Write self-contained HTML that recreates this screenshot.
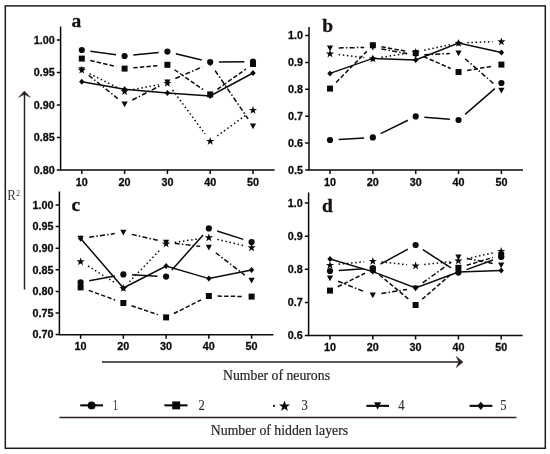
<!DOCTYPE html>
<html lang="en"><head><meta charset="utf-8"><title>Figure</title>
<style>html,body{margin:0;padding:0;background:#fff}body{width:550px;height:454px;overflow:hidden}svg{display:block}</style></head>
<body>
<svg width="550" height="454" viewBox="0 0 550 454">
<rect width="550" height="454" fill="#fff"/>
<rect x="5.3" y="5.9" width="540" height="442.4" fill="none" stroke="#221a1a" stroke-width="1.5"/>
<g stroke="#0a0a0a" stroke-width="1.5" fill="none">
<path d="M60.60 26.60 V170.00 H274.60"/>
<path d="M60.60 40.00 h-3.8M60.60 72.50 h-3.8M60.60 105.00 h-3.8M60.60 137.50 h-3.8M60.60 170.00 h-3.8M81.80 170.00 v4M124.60 170.00 v4M167.40 170.00 v4M210.20 170.00 v4M253.00 170.00 v4"/>
</g>
<g font-family="'Liberation Sans', Arial, sans-serif" font-weight="bold" font-size="10.2" stroke="#0a0a0a" stroke-width="0.25" fill="#0a0a0a">
<text transform="translate(54.70 43.70) scale(1.06 1)" text-anchor="end">1.00</text>
<text transform="translate(54.70 76.20) scale(1.06 1)" text-anchor="end">0.95</text>
<text transform="translate(54.70 108.70) scale(1.06 1)" text-anchor="end">0.90</text>
<text transform="translate(54.70 141.20) scale(1.06 1)" text-anchor="end">0.85</text>
<text transform="translate(54.70 173.70) scale(1.06 1)" text-anchor="end">0.80</text>
<text transform="translate(81.80 185.60) scale(1.06 1)" text-anchor="middle">10</text>
<text transform="translate(124.60 185.60) scale(1.06 1)" text-anchor="middle">20</text>
<text transform="translate(167.40 185.60) scale(1.06 1)" text-anchor="middle">30</text>
<text transform="translate(210.20 185.60) scale(1.06 1)" text-anchor="middle">40</text>
<text transform="translate(253.00 185.60) scale(1.06 1)" text-anchor="middle">50</text>
</g>
<text transform="translate(71.60 27.30) scale(1.03 1)" font-family="'Liberation Serif', 'Times New Roman', serif" font-weight="bold" font-size="18.9" fill="#1a1010" stroke="#1a1010" stroke-width="0.3">a</text>
<g stroke="#0a0a0a" stroke-width="1.50" fill="none">
<line x1="90.42" y1="51.21" x2="115.98" y2="54.79"/>
<line x1="133.25" y1="55.11" x2="158.75" y2="52.49"/>
<line x1="175.85" y1="53.65" x2="201.75" y2="59.95"/>
<line x1="218.90" y1="61.92" x2="244.30" y2="61.68"/>
</g>
<g fill="#0a0a0a">
<circle cx="81.80" cy="50.00" r="3.10"/>
<circle cx="124.60" cy="56.00" r="3.10"/>
<circle cx="167.40" cy="51.60" r="3.10"/>
<circle cx="210.20" cy="62.00" r="3.10"/>
<circle cx="253.00" cy="61.60" r="3.10"/>
</g>
<g stroke="#0a0a0a" stroke-width="1.50" fill="none" stroke-dasharray="4.4 2.2">
<line x1="90.27" y1="60.58" x2="116.13" y2="66.62"/>
<line x1="133.27" y1="67.83" x2="158.73" y2="65.57"/>
<line x1="174.56" y1="69.75" x2="203.04" y2="89.45"/>
<line x1="217.29" y1="89.36" x2="245.91" y2="69.04"/>
</g>
<g fill="#0a0a0a">
<rect x="78.80" y="55.60" width="6.00" height="6.00"/>
<rect x="121.60" y="65.60" width="6.00" height="6.00"/>
<rect x="164.40" y="61.80" width="6.00" height="6.00"/>
<rect x="207.20" y="91.40" width="6.00" height="6.00"/>
<rect x="250.00" y="61.00" width="6.00" height="6.00"/>
</g>
<g stroke="#0a0a0a" stroke-width="1.50" fill="none" stroke-dasharray="1.5 2.65">
<line x1="89.58" y1="73.69" x2="116.82" y2="87.31"/>
<line x1="133.14" y1="89.56" x2="158.86" y2="84.64"/>
<line x1="172.57" y1="90.00" x2="205.03" y2="134.00"/>
<line x1="217.25" y1="135.90" x2="245.95" y2="115.10"/>
</g>
<g fill="#0a0a0a">
<polygon points="81.80,65.80 82.81,68.71 85.89,68.77 83.44,70.63 84.33,73.58 81.80,71.82 79.27,73.58 80.16,70.63 77.71,68.77 80.79,68.71"/>
<polygon points="124.60,87.20 125.61,90.11 128.69,90.17 126.24,92.03 127.13,94.98 124.60,93.22 122.07,94.98 122.96,92.03 120.51,90.17 123.59,90.11"/>
<polygon points="167.40,79.00 168.41,81.91 171.49,81.97 169.04,83.83 169.93,86.78 167.40,85.02 164.87,86.78 165.76,83.83 163.31,81.97 166.39,81.91"/>
<polygon points="210.20,137.00 211.21,139.91 214.29,139.97 211.84,141.83 212.73,144.78 210.20,143.02 207.67,144.78 208.56,141.83 206.11,139.97 209.19,139.91"/>
<polygon points="253.00,106.00 254.01,108.91 257.09,108.97 254.64,110.83 255.53,113.78 253.00,112.02 250.47,113.78 251.36,110.83 248.91,108.97 251.99,108.91"/>
</g>
<g stroke="#0a0a0a" stroke-width="1.50" fill="none" stroke-dasharray="5 2.2 1.5 2.2">
<line x1="88.60" y1="75.23" x2="117.80" y2="98.57"/>
<line x1="132.34" y1="100.02" x2="159.66" y2="85.98"/>
<line x1="175.38" y1="78.53" x2="202.22" y2="66.87"/>
<line x1="215.11" y1="70.58" x2="248.09" y2="118.82"/>
</g>
<g fill="#0a0a0a">
<polygon points="78.70,67.20 84.90,67.20 81.80,73.00"/>
<polygon points="121.50,101.40 127.70,101.40 124.60,107.20"/>
<polygon points="164.30,79.40 170.50,79.40 167.40,85.20"/>
<polygon points="207.10,60.80 213.30,60.80 210.20,66.60"/>
<polygon points="249.90,123.40 256.10,123.40 253.00,129.20"/>
</g>
<g stroke="#0a0a0a" stroke-width="1.50" fill="none">
<polyline points="81.80,81.80 124.60,89.20 167.40,93.00 210.20,96.00 253.00,73.00"/>
</g>
<g fill="#0a0a0a">
<polygon points="79.10,81.80 81.80,78.80 84.50,81.80 81.80,84.80"/>
<polygon points="121.90,89.20 124.60,86.20 127.30,89.20 124.60,92.20"/>
<polygon points="164.70,93.00 167.40,90.00 170.10,93.00 167.40,96.00"/>
<polygon points="207.50,96.00 210.20,93.00 212.90,96.00 210.20,99.00"/>
<polygon points="250.30,73.00 253.00,70.00 255.70,73.00 253.00,76.00"/>
</g>
<g stroke="#0a0a0a" stroke-width="1.5" fill="none">
<path d="M309.00 27.00 V170.00 H523.00"/>
<path d="M309.00 35.60 h-3.8M309.00 62.48 h-3.8M309.00 89.36 h-3.8M309.00 116.24 h-3.8M309.00 143.12 h-3.8M309.00 170.00 h-3.8M330.00 170.00 v4M372.85 170.00 v4M415.70 170.00 v4M458.55 170.00 v4M501.40 170.00 v4"/>
</g>
<g font-family="'Liberation Sans', Arial, sans-serif" font-weight="bold" font-size="10.2" stroke="#0a0a0a" stroke-width="0.25" fill="#0a0a0a">
<text transform="translate(303.10 39.30) scale(1.06 1)" text-anchor="end">1.0</text>
<text transform="translate(303.10 66.18) scale(1.06 1)" text-anchor="end">0.9</text>
<text transform="translate(303.10 93.06) scale(1.06 1)" text-anchor="end">0.8</text>
<text transform="translate(303.10 119.94) scale(1.06 1)" text-anchor="end">0.7</text>
<text transform="translate(303.10 146.82) scale(1.06 1)" text-anchor="end">0.6</text>
<text transform="translate(303.10 173.70) scale(1.06 1)" text-anchor="end">0.5</text>
<text transform="translate(330.00 185.60) scale(1.06 1)" text-anchor="middle">10</text>
<text transform="translate(372.85 185.60) scale(1.06 1)" text-anchor="middle">20</text>
<text transform="translate(415.70 185.60) scale(1.06 1)" text-anchor="middle">30</text>
<text transform="translate(458.55 185.60) scale(1.06 1)" text-anchor="middle">40</text>
<text transform="translate(501.40 185.60) scale(1.06 1)" text-anchor="middle">50</text>
</g>
<text transform="translate(322.20 31.70) scale(1.03 1)" font-family="'Liberation Serif', 'Times New Roman', serif" font-weight="bold" font-size="18.9" fill="#1a1010" stroke="#1a1010" stroke-width="0.3">b</text>
<g stroke="#0a0a0a" stroke-width="1.50" fill="none">
<line x1="338.68" y1="139.47" x2="364.17" y2="137.93"/>
<line x1="380.66" y1="133.57" x2="407.89" y2="120.23"/>
<line x1="424.37" y1="117.13" x2="449.88" y2="119.27"/>
<line x1="465.13" y1="114.31" x2="494.82" y2="88.69"/>
</g>
<g fill="#0a0a0a">
<circle cx="330.00" cy="140.00" r="3.10"/>
<circle cx="372.85" cy="137.40" r="3.10"/>
<circle cx="415.70" cy="116.40" r="3.10"/>
<circle cx="458.55" cy="120.00" r="3.10"/>
<circle cx="501.40" cy="83.00" r="3.10"/>
</g>
<g stroke="#0a0a0a" stroke-width="1.50" fill="none" stroke-dasharray="4.4 2.2">
<line x1="336.11" y1="82.41" x2="366.74" y2="51.39"/>
<line x1="381.41" y1="46.76" x2="407.14" y2="51.44"/>
<line x1="423.65" y1="56.53" x2="450.60" y2="68.47"/>
<line x1="467.12" y1="70.52" x2="492.83" y2="66.08"/>
</g>
<g fill="#0a0a0a">
<rect x="327.00" y="85.60" width="6.00" height="6.00"/>
<rect x="369.85" y="42.20" width="6.00" height="6.00"/>
<rect x="412.70" y="50.00" width="6.00" height="6.00"/>
<rect x="455.55" y="69.00" width="6.00" height="6.00"/>
<rect x="498.40" y="61.60" width="6.00" height="6.00"/>
</g>
<g stroke="#0a0a0a" stroke-width="1.50" fill="none" stroke-dasharray="1.5 2.65">
<line x1="338.64" y1="54.61" x2="364.21" y2="57.59"/>
<line x1="381.45" y1="57.28" x2="407.10" y2="53.32"/>
<line x1="424.21" y1="50.21" x2="450.04" y2="44.79"/>
<line x1="467.24" y1="42.68" x2="492.71" y2="41.72"/>
</g>
<g fill="#0a0a0a">
<polygon points="330.00,49.60 331.01,52.51 334.09,52.57 331.64,54.43 332.53,57.38 330.00,55.62 327.47,57.38 328.36,54.43 325.91,52.57 328.99,52.51"/>
<polygon points="372.85,54.60 373.86,57.51 376.94,57.57 374.49,59.43 375.38,62.38 372.85,60.62 370.32,62.38 371.21,59.43 368.76,57.57 371.84,57.51"/>
<polygon points="415.70,48.00 416.71,50.91 419.79,50.97 417.34,52.83 418.23,55.78 415.70,54.02 413.17,55.78 414.06,52.83 411.61,50.97 414.69,50.91"/>
<polygon points="458.55,39.00 459.56,41.91 462.64,41.97 460.19,43.83 461.08,46.78 458.55,45.02 456.02,46.78 456.91,43.83 454.46,41.97 457.54,41.91"/>
<polygon points="501.40,37.40 502.41,40.31 505.49,40.37 503.04,42.23 503.93,45.18 501.40,43.42 498.87,45.18 499.76,42.23 497.31,40.37 500.39,40.31"/>
</g>
<g stroke="#0a0a0a" stroke-width="1.50" fill="none" stroke-dasharray="5 2.2 1.5 2.2">
<line x1="338.70" y1="47.88" x2="364.15" y2="47.52"/>
<line x1="381.41" y1="48.96" x2="407.14" y2="53.64"/>
<line x1="424.39" y1="54.75" x2="449.86" y2="53.45"/>
<line x1="465.10" y1="58.72" x2="494.85" y2="84.68"/>
</g>
<g fill="#0a0a0a">
<polygon points="326.90,45.40 333.10,45.40 330.00,51.20"/>
<polygon points="369.75,44.80 375.95,44.80 372.85,50.60"/>
<polygon points="412.60,52.60 418.80,52.60 415.70,58.40"/>
<polygon points="455.45,50.40 461.65,50.40 458.55,56.20"/>
<polygon points="498.30,87.80 504.50,87.80 501.40,93.60"/>
</g>
<g stroke="#0a0a0a" stroke-width="1.50" fill="none">
<polyline points="330.00,73.40 372.85,58.40 415.70,60.00 458.55,43.00 501.40,52.60"/>
</g>
<g fill="#0a0a0a">
<polygon points="327.30,73.40 330.00,70.40 332.70,73.40 330.00,76.40"/>
<polygon points="370.15,58.40 372.85,55.40 375.55,58.40 372.85,61.40"/>
<polygon points="413.00,60.00 415.70,57.00 418.40,60.00 415.70,63.00"/>
<polygon points="455.85,43.00 458.55,40.00 461.25,43.00 458.55,46.00"/>
<polygon points="498.70,52.60 501.40,49.60 504.10,52.60 501.40,55.60"/>
</g>
<g stroke="#0a0a0a" stroke-width="1.5" fill="none">
<path d="M59.40 191.60 V334.70 H273.40"/>
<path d="M59.40 205.00 h-3.8M59.40 226.60 h-3.8M59.40 248.20 h-3.8M59.40 269.80 h-3.8M59.40 291.40 h-3.8M59.40 313.00 h-3.8M59.40 334.60 h-3.8M80.60 334.70 v4M123.35 334.70 v4M166.10 334.70 v4M208.85 334.70 v4M251.60 334.70 v4"/>
</g>
<g font-family="'Liberation Sans', Arial, sans-serif" font-weight="bold" font-size="10.2" stroke="#0a0a0a" stroke-width="0.25" fill="#0a0a0a">
<text transform="translate(53.50 208.70) scale(1.06 1)" text-anchor="end">1.00</text>
<text transform="translate(53.50 230.30) scale(1.06 1)" text-anchor="end">0.95</text>
<text transform="translate(53.50 251.90) scale(1.06 1)" text-anchor="end">0.90</text>
<text transform="translate(53.50 273.50) scale(1.06 1)" text-anchor="end">0.85</text>
<text transform="translate(53.50 295.10) scale(1.06 1)" text-anchor="end">0.80</text>
<text transform="translate(53.50 316.70) scale(1.06 1)" text-anchor="end">0.75</text>
<text transform="translate(53.50 338.30) scale(1.06 1)" text-anchor="end">0.70</text>
<text transform="translate(80.60 350.30) scale(1.06 1)" text-anchor="middle">10</text>
<text transform="translate(123.35 350.30) scale(1.06 1)" text-anchor="middle">20</text>
<text transform="translate(166.10 350.30) scale(1.06 1)" text-anchor="middle">30</text>
<text transform="translate(208.85 350.30) scale(1.06 1)" text-anchor="middle">40</text>
<text transform="translate(251.60 350.30) scale(1.06 1)" text-anchor="middle">50</text>
</g>
<text transform="translate(71.60 211.40) scale(1.03 1)" font-family="'Liberation Serif', 'Times New Roman', serif" font-weight="bold" font-size="18.9" fill="#1a1010" stroke="#1a1010" stroke-width="0.3">c</text>
<g stroke="#0a0a0a" stroke-width="1.50" fill="none">
<line x1="89.15" y1="280.80" x2="114.80" y2="276.00"/>
<line x1="132.04" y1="274.85" x2="157.41" y2="276.15"/>
<line x1="171.87" y1="270.09" x2="203.08" y2="234.91"/>
<line x1="217.14" y1="231.04" x2="243.31" y2="239.36"/>
</g>
<g fill="#0a0a0a">
<circle cx="80.60" cy="282.40" r="3.10"/>
<circle cx="123.35" cy="274.40" r="3.10"/>
<circle cx="166.10" cy="276.60" r="3.10"/>
<circle cx="208.85" cy="228.40" r="3.10"/>
<circle cx="251.60" cy="242.00" r="3.10"/>
</g>
<g stroke="#0a0a0a" stroke-width="1.50" fill="none" stroke-dasharray="4.4 2.2">
<line x1="88.77" y1="290.38" x2="115.18" y2="300.02"/>
<line x1="131.59" y1="305.78" x2="157.86" y2="314.62"/>
<line x1="173.88" y1="313.51" x2="201.07" y2="299.89"/>
<line x1="217.55" y1="296.12" x2="242.90" y2="296.48"/>
</g>
<g fill="#0a0a0a">
<rect x="77.60" y="284.40" width="6.00" height="6.00"/>
<rect x="120.35" y="300.00" width="6.00" height="6.00"/>
<rect x="163.10" y="314.40" width="6.00" height="6.00"/>
<rect x="205.85" y="293.00" width="6.00" height="6.00"/>
<rect x="248.60" y="293.60" width="6.00" height="6.00"/>
</g>
<g stroke="#0a0a0a" stroke-width="1.50" fill="none" stroke-dasharray="1.5 2.65">
<line x1="87.99" y1="266.00" x2="115.96" y2="283.40"/>
<line x1="129.38" y1="281.73" x2="160.07" y2="249.87"/>
<line x1="174.71" y1="242.35" x2="200.24" y2="238.65"/>
<line x1="217.32" y1="239.38" x2="243.13" y2="245.42"/>
</g>
<g fill="#0a0a0a">
<polygon points="80.60,257.40 81.61,260.31 84.69,260.37 82.24,262.23 83.13,265.18 80.60,263.42 78.07,265.18 78.96,262.23 76.51,260.37 79.59,260.31"/>
<polygon points="123.35,284.00 124.36,286.91 127.44,286.97 124.99,288.83 125.88,291.78 123.35,290.02 120.82,291.78 121.71,288.83 119.26,286.97 122.34,286.91"/>
<polygon points="166.10,239.60 167.11,242.51 170.19,242.57 167.74,244.43 168.63,247.38 166.10,245.62 163.57,247.38 164.46,244.43 162.01,242.57 165.09,242.51"/>
<polygon points="208.85,233.40 209.86,236.31 212.94,236.37 210.49,238.23 211.38,241.18 208.85,239.42 206.32,241.18 207.21,238.23 204.76,236.37 207.84,236.31"/>
<polygon points="251.60,243.40 252.61,246.31 255.69,246.37 253.24,248.23 254.13,251.18 251.60,249.42 249.07,251.18 249.96,248.23 247.51,246.37 250.59,246.31"/>
</g>
<g stroke="#0a0a0a" stroke-width="1.50" fill="none" stroke-dasharray="5 2.2 1.5 2.2">
<line x1="89.22" y1="237.19" x2="114.73" y2="233.61"/>
<line x1="131.83" y1="234.36" x2="157.62" y2="240.34"/>
<line x1="174.74" y1="243.33" x2="200.21" y2="246.37"/>
<line x1="215.74" y1="252.72" x2="244.71" y2="275.08"/>
</g>
<g fill="#0a0a0a">
<polygon points="77.50,235.80 83.70,235.80 80.60,241.60"/>
<polygon points="120.25,229.80 126.45,229.80 123.35,235.60"/>
<polygon points="163.00,239.70 169.20,239.70 166.10,245.50"/>
<polygon points="205.75,244.80 211.95,244.80 208.85,250.60"/>
<polygon points="248.50,277.80 254.70,277.80 251.60,283.60"/>
</g>
<g stroke="#0a0a0a" stroke-width="1.50" fill="none">
<polyline points="80.60,238.40 123.35,288.00 166.10,266.00 208.85,278.60 251.60,270.00"/>
</g>
<g fill="#0a0a0a">
<polygon points="77.90,238.40 80.60,235.40 83.30,238.40 80.60,241.40"/>
<polygon points="120.65,288.00 123.35,285.00 126.05,288.00 123.35,291.00"/>
<polygon points="163.40,266.00 166.10,263.00 168.80,266.00 166.10,269.00"/>
<polygon points="206.15,278.60 208.85,275.60 211.55,278.60 208.85,281.60"/>
<polygon points="248.90,270.00 251.60,267.00 254.30,270.00 251.60,273.00"/>
</g>
<g stroke="#0a0a0a" stroke-width="1.5" fill="none">
<path d="M308.60 192.40 V335.60 H522.60"/>
<path d="M308.60 203.00 h-3.8M308.60 236.15 h-3.8M308.60 269.30 h-3.8M308.60 302.45 h-3.8M308.60 335.60 h-3.8M330.00 335.60 v4M372.80 335.60 v4M415.60 335.60 v4M458.40 335.60 v4M501.20 335.60 v4"/>
</g>
<g font-family="'Liberation Sans', Arial, sans-serif" font-weight="bold" font-size="10.2" stroke="#0a0a0a" stroke-width="0.25" fill="#0a0a0a">
<text transform="translate(302.70 206.70) scale(1.06 1)" text-anchor="end">1.0</text>
<text transform="translate(302.70 239.85) scale(1.06 1)" text-anchor="end">0.9</text>
<text transform="translate(302.70 273.00) scale(1.06 1)" text-anchor="end">0.8</text>
<text transform="translate(302.70 306.15) scale(1.06 1)" text-anchor="end">0.7</text>
<text transform="translate(302.70 339.30) scale(1.06 1)" text-anchor="end">0.6</text>
<text transform="translate(330.00 351.20) scale(1.06 1)" text-anchor="middle">10</text>
<text transform="translate(372.80 351.20) scale(1.06 1)" text-anchor="middle">20</text>
<text transform="translate(415.60 351.20) scale(1.06 1)" text-anchor="middle">30</text>
<text transform="translate(458.40 351.20) scale(1.06 1)" text-anchor="middle">40</text>
<text transform="translate(501.20 351.20) scale(1.06 1)" text-anchor="middle">50</text>
</g>
<text transform="translate(321.90 211.50) scale(1.03 1)" font-family="'Liberation Serif', 'Times New Roman', serif" font-weight="bold" font-size="18.9" fill="#1a1010" stroke="#1a1010" stroke-width="0.3">d</text>
<g stroke="#0a0a0a" stroke-width="1.50" fill="none">
<line x1="338.68" y1="270.43" x2="364.12" y2="268.77"/>
<line x1="380.45" y1="264.05" x2="407.95" y2="249.15"/>
<line x1="422.91" y1="249.71" x2="451.09" y2="267.89"/>
<line x1="466.57" y1="269.62" x2="493.03" y2="259.98"/>
</g>
<g fill="#0a0a0a">
<circle cx="330.00" cy="271.00" r="3.10"/>
<circle cx="372.80" cy="268.20" r="3.10"/>
<circle cx="415.60" cy="245.00" r="3.10"/>
<circle cx="458.40" cy="272.60" r="3.10"/>
<circle cx="501.20" cy="257.00" r="3.10"/>
</g>
<g stroke="#0a0a0a" stroke-width="1.50" fill="none" stroke-dasharray="4.4 2.2">
<line x1="337.80" y1="286.74" x2="365.00" y2="273.26"/>
<line x1="379.49" y1="274.96" x2="408.91" y2="299.44"/>
<line x1="422.17" y1="299.29" x2="451.83" y2="273.51"/>
<line x1="466.74" y1="265.31" x2="492.86" y2="257.49"/>
</g>
<g fill="#0a0a0a">
<rect x="327.00" y="287.60" width="6.00" height="6.00"/>
<rect x="369.80" y="266.40" width="6.00" height="6.00"/>
<rect x="412.60" y="302.00" width="6.00" height="6.00"/>
<rect x="455.40" y="264.80" width="6.00" height="6.00"/>
<rect x="498.20" y="252.00" width="6.00" height="6.00"/>
</g>
<g stroke="#0a0a0a" stroke-width="1.50" fill="none" stroke-dasharray="1.5 2.65">
<line x1="338.66" y1="264.19" x2="364.14" y2="261.81"/>
<line x1="381.45" y1="261.93" x2="406.95" y2="264.67"/>
<line x1="424.24" y1="264.59" x2="449.76" y2="261.61"/>
<line x1="466.89" y1="258.70" x2="492.71" y2="252.90"/>
</g>
<g fill="#0a0a0a">
<polygon points="330.00,261.00 331.01,263.91 334.09,263.97 331.64,265.83 332.53,268.78 330.00,267.02 327.47,268.78 328.36,265.83 325.91,263.97 328.99,263.91"/>
<polygon points="372.80,257.00 373.81,259.91 376.89,259.97 374.44,261.83 375.33,264.78 372.80,263.02 370.27,264.78 371.16,261.83 368.71,259.97 371.79,259.91"/>
<polygon points="415.60,261.60 416.61,264.51 419.69,264.57 417.24,266.43 418.13,269.38 415.60,267.62 413.07,269.38 413.96,266.43 411.51,264.57 414.59,264.51"/>
<polygon points="458.40,256.60 459.41,259.51 462.49,259.57 460.04,261.43 460.93,264.38 458.40,262.62 455.87,264.38 456.76,261.43 454.31,259.57 457.39,259.51"/>
<polygon points="501.20,247.00 502.21,249.91 505.29,249.97 502.84,251.83 503.73,254.78 501.20,253.02 498.67,254.78 499.56,251.83 497.11,249.97 500.19,249.91"/>
</g>
<g stroke="#0a0a0a" stroke-width="1.50" fill="none" stroke-dasharray="5 2.2 1.5 2.2">
<line x1="338.09" y1="281.21" x2="364.71" y2="291.79"/>
<line x1="381.39" y1="293.60" x2="407.01" y2="289.40"/>
<line x1="422.65" y1="282.90" x2="451.35" y2="262.10"/>
<line x1="466.95" y1="258.60" x2="492.65" y2="263.40"/>
</g>
<g fill="#0a0a0a">
<polygon points="326.90,275.40 333.10,275.40 330.00,281.20"/>
<polygon points="369.70,292.40 375.90,292.40 372.80,298.20"/>
<polygon points="412.50,285.40 418.70,285.40 415.60,291.20"/>
<polygon points="455.30,254.40 461.50,254.40 458.40,260.20"/>
<polygon points="498.10,262.40 504.30,262.40 501.20,268.20"/>
</g>
<g stroke="#0a0a0a" stroke-width="1.50" fill="none">
<polyline points="330.00,259.00 372.80,271.60 415.60,288.00 458.40,272.00 501.20,270.60"/>
</g>
<g fill="#0a0a0a">
<polygon points="327.30,259.00 330.00,256.00 332.70,259.00 330.00,262.00"/>
<polygon points="370.10,271.60 372.80,268.60 375.50,271.60 372.80,274.60"/>
<polygon points="412.90,288.00 415.60,285.00 418.30,288.00 415.60,291.00"/>
<polygon points="455.70,272.00 458.40,269.00 461.10,272.00 458.40,275.00"/>
<polygon points="498.50,270.60 501.20,267.60 503.90,270.60 501.20,273.60"/>
</g>
<g stroke="#2a1e1e" fill="none" stroke-width="1.45">
<path d="M24.5 92.5 V289.5"/>
</g>
<path d="M24.4 91 L30.4 97.4 L24.4 94.3 L18.5 97.4 Z" fill="#2a1e1e" stroke="#2a1e1e" stroke-width="0.45" stroke-linejoin="miter"/>
<path d="M102 362 H460" stroke="#2a1e1e" stroke-width="1.4" fill="none"/>
<path d="M463 362 L456.2 356.4 L458.9 362 L456.2 367.6 Z" fill="#2a1e1e" stroke="#2a1e1e" stroke-width="0.5" stroke-linejoin="miter"/>
<text x="7.2" y="199.6" font-family="'Liberation Serif', serif" font-size="14.8" fill="#3c3838" textLength="8.6" lengthAdjust="spacingAndGlyphs">R</text>
<text x="16.3" y="195.8" font-family="'Liberation Serif', serif" font-size="7.4" fill="#3c3838">2</text>
<text x="223" y="379.8" font-family="'Liberation Serif', serif" font-size="13.8" fill="#2a2626" stroke="#2a2626" stroke-width="0.2" textLength="107" lengthAdjust="spacingAndGlyphs">Number of neurons</text>
<text x="210.8" y="435.1" font-family="'Liberation Serif', serif" font-size="13.8" fill="#2a2626" stroke="#2a2626" stroke-width="0.2" textLength="137.4" lengthAdjust="spacingAndGlyphs">Number of hidden layers</text>
<path d="M59.4 417.4 H516.4" stroke="#2a1e1e" stroke-width="1.5" fill="none"/>
<path d="M80.20 405.35 H103.00" stroke="#0a0a0a" stroke-width="2.1" fill="none"/>
<g fill="#0a0a0a">
<circle cx="91.60" cy="405.40" r="3.91"/>
</g>
<text x="113.10" y="409.6" font-family="'Liberation Serif', serif" font-size="14.2" fill="#333030" stroke="#333030" stroke-width="0.15" textLength="4.8" lengthAdjust="spacingAndGlyphs">1</text>
<path d="M164.40 405.35 H187.50" stroke="#0a0a0a" stroke-width="2.1" fill="none"/>
<g fill="#0a0a0a">
<rect x="172.24" y="401.44" width="7.92" height="7.92"/>
</g>
<text x="198.60" y="409.6" font-family="'Liberation Serif', serif" font-size="14.2" fill="#333030" stroke="#333030" stroke-width="0.15" textLength="6.3" lengthAdjust="spacingAndGlyphs">2</text>
<rect x="273.1" y="404.9" width="1.9" height="1.9" fill="#0a0a0a"/>
<g fill="#0a0a0a">
<polygon points="284.50,400.50 285.86,404.42 290.02,404.51 286.71,407.02 287.91,410.99 284.50,408.62 281.09,410.99 282.29,407.02 278.98,404.51 283.14,404.42"/>
</g>
<text x="301.60" y="409.6" font-family="'Liberation Serif', serif" font-size="14.2" fill="#333030" stroke="#333030" stroke-width="0.15" textLength="6.3" lengthAdjust="spacingAndGlyphs">3</text>
<path d="M366.40 405.85 H389.00" stroke="#0a0a0a" stroke-width="2.1" fill="none"/>
<g fill="#0a0a0a">
<polygon points="374.10,402.2 381.10,402.2 377.60,409.8"/>
</g>
<text x="398.30" y="409.6" font-family="'Liberation Serif', serif" font-size="14.2" fill="#333030" stroke="#333030" stroke-width="0.15" textLength="6.3" lengthAdjust="spacingAndGlyphs">4</text>
<path d="M469.60 405.85 H492.40" stroke="#0a0a0a" stroke-width="2.1" fill="none"/>
<g fill="#0a0a0a">
<polygon points="477.40,405.85 480.80,401.8 484.20,405.85 480.80,409.9"/>
</g>
<text x="500.30" y="409.6" font-family="'Liberation Serif', serif" font-size="14.2" fill="#333030" stroke="#333030" stroke-width="0.15" textLength="6.3" lengthAdjust="spacingAndGlyphs">5</text>
</svg>
</body></html>
